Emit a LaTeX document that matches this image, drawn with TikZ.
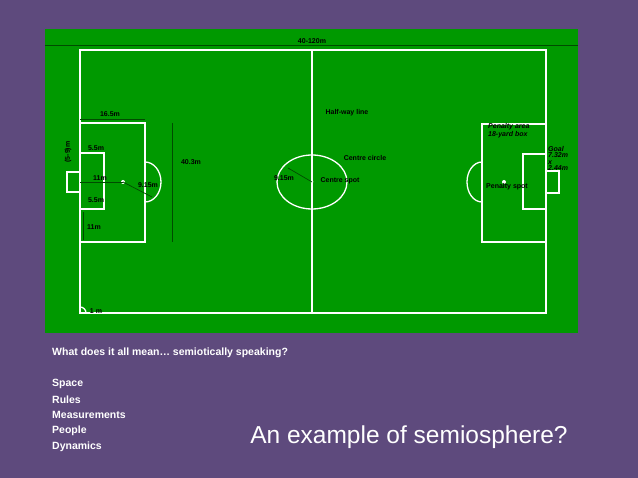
\documentclass[tikz,border=0pt]{standalone}
\usepackage{fontspec}
\setmainfont{Liberation Sans}
\begin{document}
\begin{tikzpicture}[x=1pt,y=-1pt,
  fl/.style={white,line width=1.3pt},
  dim/.style={black!70!green,line width=0.7pt},
  lab/.style={font=\fontsize{7}{8}\selectfont\bfseries,inner sep=0pt,text=black},
  txt/.style={font=\fontsize{10.5}{12}\selectfont\bfseries,text=white,anchor=west,inner sep=0pt}]
\fill[fill={rgb,255:red,94;green,74;blue,125}] (0,0) rectangle (638,478);
\useasboundingbox (0,0) rectangle (638,478);
\fill[fill={rgb,255:red,0;green,153;blue,0}] (45,29) rectangle (578,333);
% pitch
\draw[fl] (80,50) rectangle (546,313);
\draw[fl] (312,50) -- (312,313);
\draw[fl] (312,182) ellipse (35 and 27);
\fill[white] (312,182) circle (1.5);
% left
\draw[fl] (80,123) rectangle (145,242);
\draw[fl] (80,153) rectangle (104,209);
\draw[fl] (80,172) -- (67,172) -- (67,192) -- (80,192);
\fill[white] (123,182) circle (2);
\draw[fl] (145,162) arc (-90:90:16 and 20);
\draw[fl] (80,307) arc (-90:0:6);
% right
\draw[fl] (482,124) rectangle (546,242);
\draw[fl] (523,154) rectangle (546,209);
\draw[fl] (546,171) -- (559,171) -- (559,193) -- (546,193);
\fill[white] (504,182) circle (2);
\draw[fl] (482,162) arc (270:90:15 and 20);
% dimension lines
\draw[dim] (45,45) -- (578,45);
\draw[dim] (80,119) -- (145,119);
\draw[dim] (172,123) -- (172,242);
\draw[dim] (80,182) -- (123,182);
\draw[dim] (123,182) -- (152,197);
\draw[dim] (83,212) -- (83,240);
\draw[dim] (288,168) -- (312,182);
% labels
\node[lab] (l1) at (312,41) {40-120m};
\node[lab] (l2) at (110,114) {16.5m};
\node[lab] (l3) at (68,152) [rotate=90] {(5-9)m};
\node[lab] (l4) at (96,148) {5.5m};
\node[lab] (l5) at (100,178) {11m};
\node[lab] (l6) at (148,185) {9.15m};
\node[lab] (l7) at (96,200) {5.5m};
\node[lab] (l8) at (94,227) {11m};
\node[lab] (l9) at (191,162) {40.3m};
\node[lab] (l10) at (96,311) {1 m};
\node[lab] (l11) at (347,113) {Half-way line};
\node[lab] (l12) at (365,158) {Centre circle};
\node[lab] (l13) at (340,181) {Centre spot};
\node[lab] (l14) at (284,178) {9.15m};
\node[lab,font=\fontsize{7}{8}\selectfont\bfseries\itshape,align=left,anchor=west] (l15) at (488,131) {Penalty area\\18-yard box};
\node[lab,align=left,anchor=north west,font=\fontsize{7}{6.5}\selectfont\bfseries\itshape] (l16) at (548,146) {Goal\\7.32m\\x\\2.44m};
\node[lab] (l17) at (507,187) {Penalty spot};
% text
\node[txt] (t0) at (52,353) {What does it all mean… semiotically speaking?};
\node[txt] (t1) at (52,384) {Space};
\node[txt] (t2) at (52,400) {Rules};
\node[txt] (t3) at (52,415) {Measurements};
\node[txt] (t4) at (52,431) {People};
\node[txt] (t5) at (52,447) {Dynamics};
\node[font=\fontsize{24.5}{28}\selectfont,text=white,inner sep=0pt] (t6) at (409,437) {An example of semiosphere?};
\end{tikzpicture}
\end{document}
